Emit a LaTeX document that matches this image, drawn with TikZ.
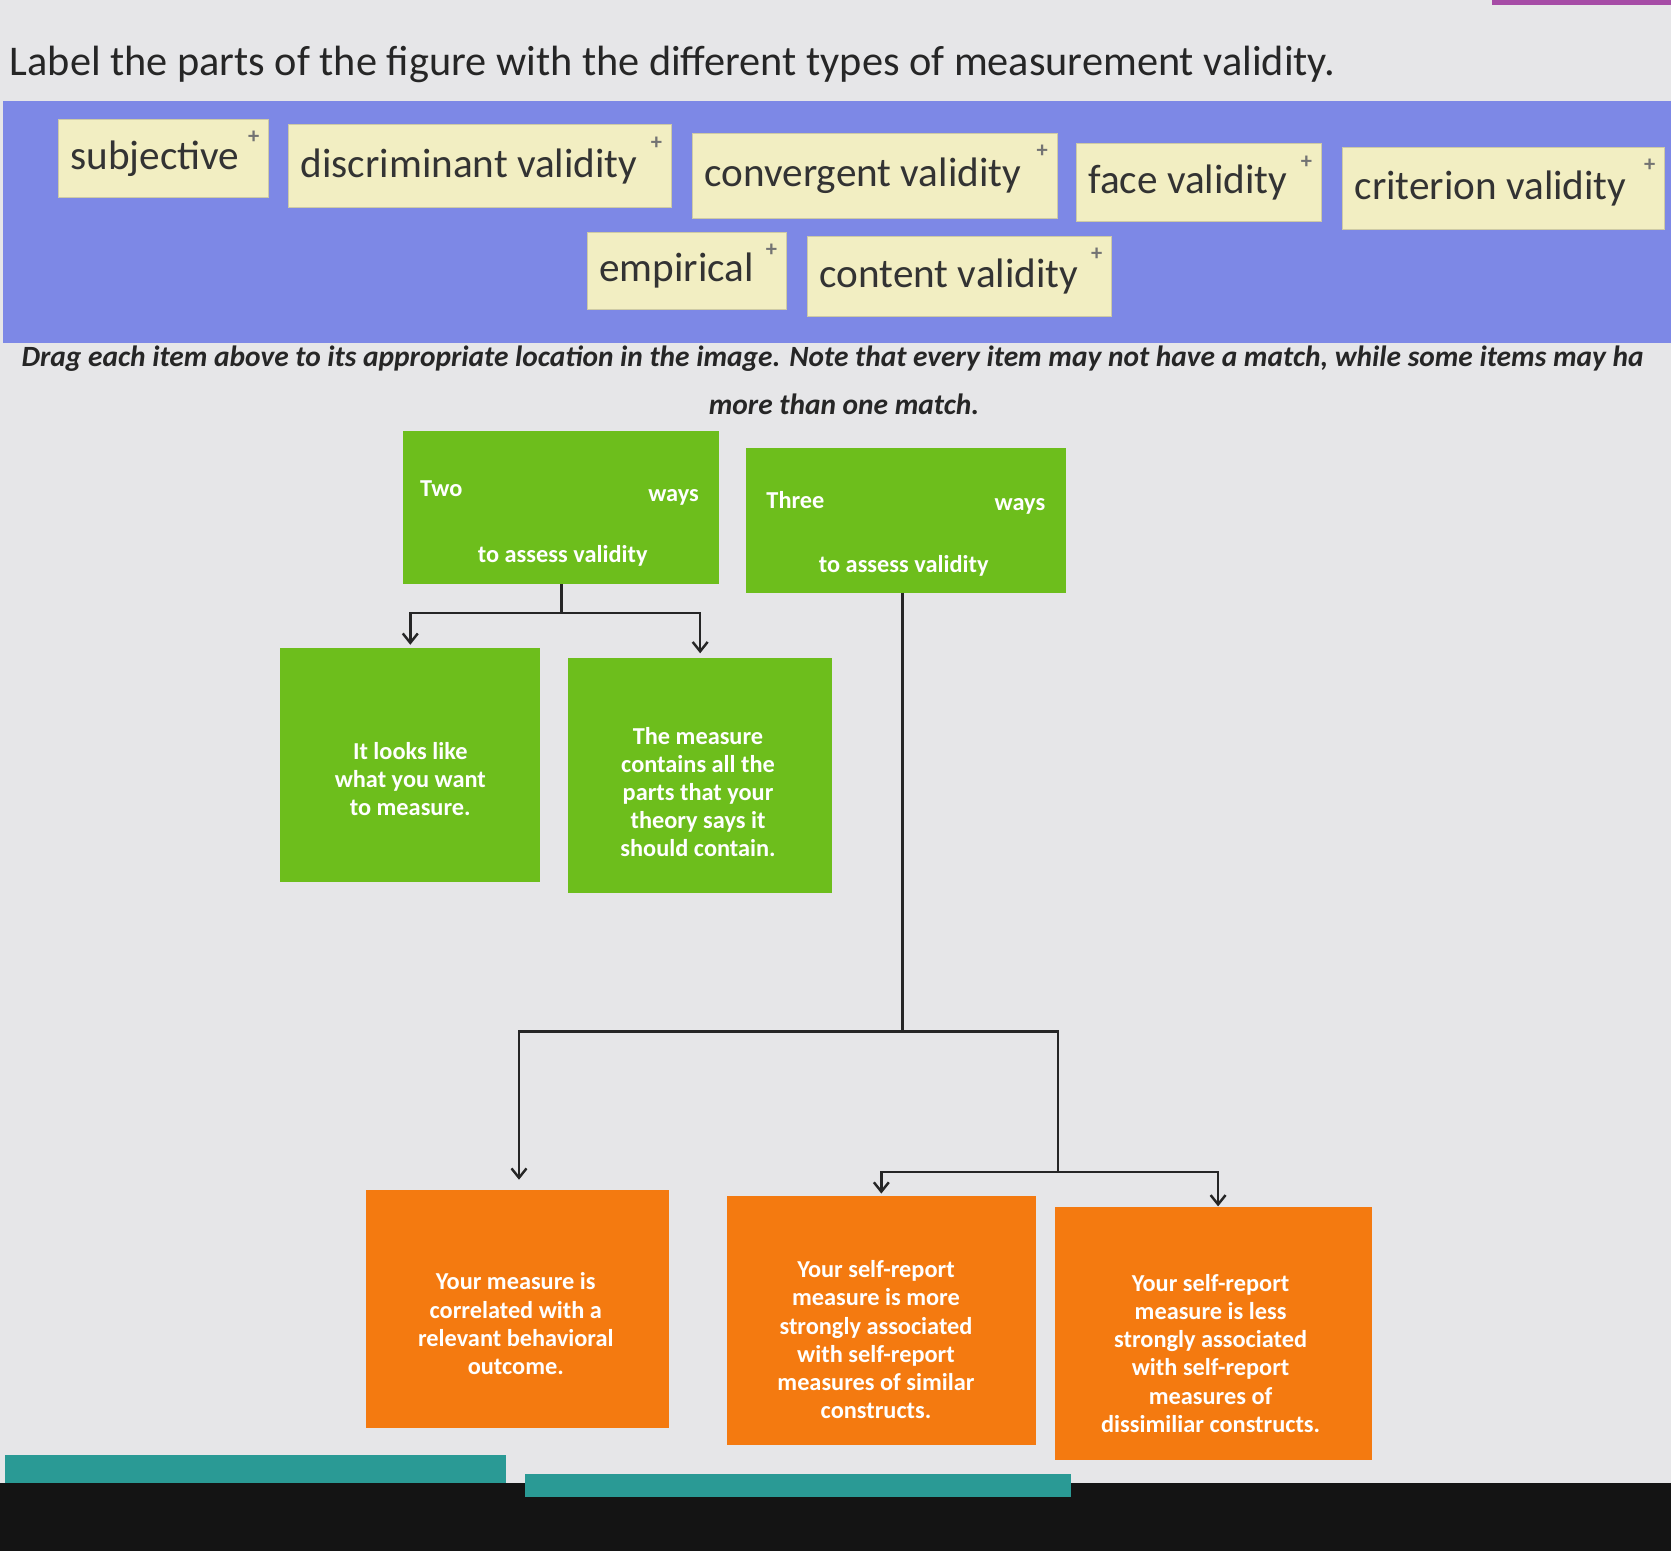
\documentclass[tikz,border=0pt]{standalone}
\usepackage{fontspec}
\setmainfont{Carlito}
\usetikzlibrary{arrows.meta}
\definecolor{bg}{HTML}{E6E6E8}
\definecolor{band}{HTML}{7D88E6}
\definecolor{tile}{HTML}{F2EEC2}
\definecolor{grn}{HTML}{6DBE1C}
\definecolor{org}{HTML}{F47A10}
\definecolor{teal}{HTML}{2A9A95}
\begin{document}
\begin{tikzpicture}[x=0.02cm,y=-0.02cm,
  tilebox/.style={fill=tile,draw=tile!85!black,line width=0.5pt},
  tiletext/.style={font=\fontsize{22}{24}\selectfont,text=black!80,anchor=west},
  gbox/.style={fill=grn},
  obox/.style={fill=org},
  btext/.style={text=white,font=\bfseries\fontsize{13}{15}\selectfont,align=center},
  conn/.style={line width=1.3pt,black!85},
  arr/.style={conn,-{Straight Barb[length=5pt,width=8pt]}}]
\fill[bg] (0,0) rectangle (1568,1455);
\useasboundingbox (0,0) rectangle (1568,1455);
\fill[violet!70] (1400,0) rectangle (1568,5);
\node[anchor=west,font=\fontsize{22.6}{24}\selectfont,text=black!85] (title) at (3,60) {Label the parts of the figure with the different types of measurement validity.};
\fill[band] (3,95) rectangle (1568,322);
% tiles
\foreach \n/\xa/\ya/\xb/\yb/\t in {t1/55/112/252/185/subjective,t2/271/117/630/195/discriminant validity,t3/650/125/992/205/convergent validity,t4/1010/135/1240/208/face validity,t5/1260/138/1562/215/criterion validity,t6/551/218/738/290/empirical,t7/758/222/1043/297/content validity}{
  \draw[tilebox] (\xa,\ya) rectangle (\xb,\yb);
  \node[tiletext] (\n) at (\xa+5,{(\ya+\yb)/2}) {\t};
  \node[text=black!55,font=\large\bfseries] (\n p) at (\xb-14,\ya+17) {+};
}
\node[anchor=west,font=\bfseries\itshape\fontsize{15.7}{18}\selectfont,text=black!85] (instr) at (14,337) {Drag each item above to its appropriate location in the image. Note that every item may not have a match, while some items may ha};
\node[font=\bfseries\itshape\fontsize{15.7}{18}\selectfont,text=black!85] (instr2) at (792,379) {more than one match.};
% green boxes
\fill[gbox] (378,404) rectangle (675,548);
\node[btext,anchor=west] (two) at (388,459) {Two};
\node[btext,anchor=east] (twow) at (662,467) {ways};
\node[btext] (twoa) at (528,522) {to assess validity};
\coordinate (twob) at (527,548);
\fill[gbox] (700,420) rectangle (1000,556);
\node[btext,anchor=west] (three) at (713,469) {Three};
\node[btext,anchor=east] (threew) at (987,475) {ways};
\node[btext] (threea) at (848,531) {to assess validity};
\coordinate (threeb) at (847,556);
\fill[gbox] (263,608) rectangle (507,828);
\node[btext] (face) at (385,731) {It looks like\\what you want\\to measure.};
\fill[gbox] (533,617) rectangle (781,838);
\node[btext] (content) at (655,743) {The measure\\contains all the\\parts that your\\theory says it\\should contain.};
% orange
\fill[obox] (343,1117) rectangle (628,1340);
\node[btext] (crit) at (484,1242) {Your measure is\\correlated with a\\relevant behavioral\\outcome.};
\fill[obox] (682,1122) rectangle (972,1356);
\node[btext] (conv) at (822,1257) {Your self-report\\measure is more\\strongly associated\\with self-report\\measures of similar\\constructs.};
\fill[obox] (990,1133) rectangle (1287,1370);
\node[btext] (disc) at (1136,1270) {Your self-report\\measure is less\\strongly associated\\with self-report\\measures of\\dissimiliar constructs.};
% connectors
\draw[conn] (twob) -- (527,575);
\draw[arr] (527,575) -| (385,605);
\draw[arr] (527,575) -| (657,613);
\draw[conn] (threeb) -- (847,968);
\draw[arr] (847,968) -| (487,1107);
\draw[conn] (847,968) -| (993,1100);
\draw[arr] (993,1100) -| (827,1120);
\draw[arr] (993,1100) -| (1143,1132);
% bottom
\fill[black!92] (0,1392) rectangle (1568,1455);
\fill[teal] (5,1365) rectangle (475,1392);
\fill[teal] (493,1383) rectangle (1005,1405);
\end{tikzpicture}
\end{document}
